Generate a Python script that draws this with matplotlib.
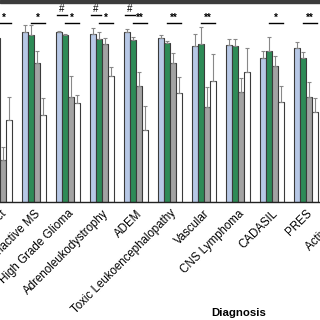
import matplotlib
matplotlib.use("Agg")
import matplotlib.pyplot as plt
import numpy as np
from matplotlib.patches import Rectangle

plt.rcParams['font.family'] = ['Liberation Sans', 'DejaVu Sans']

categories = ["Acute Infarct", "Inactive MS", "High Grade Glioma", "Adrenoleukodystrophy",
              "ADEM", "Toxic Leukoencephalopathy", "Vascular", "CNS Lymphoma",
              "CADASIL", "PRES", "Active MS"]
blue_vals  = [85, 85, 85, 84, 85, 82, 78, 78.5, 72, 77, 84]
blue_err   = [3, 3.5, 0.5, 3, 1.5, 1.5, 6, 3, 3.5, 3, 3]
green_vals = [82, 83.5, 83.5, 81.5, 81, 79.5, 79, 78, 75.5, 72, 82]
green_err  = [4, 5, 0.5, 3.5, 1.5, 1, 8.5, 3.5, 7, 3, 4]
gray_vals  = [21, 69.5, 52.5, 79, 58, 69.5, 47.5, 55, 68, 52.5, 60]
gray_err   = [6.5, 6, 10.5, 3, 7, 5, 10, 7, 5, 7.5, 6]
white_vals = [41, 43.5, 49.5, 63, 36, 54.5, 60.5, 65, 50, 45, 45]
white_err  = [11.5, 8.5, 4, 4.5, 12, 8, 13.5, 12, 8, 7, 8]
stars  = ["*", "*", "*", "*", "**", "**", "**", "", "*", "**", ""]
hashes = ["", "", "#", "#", "#", "", "", "", "", "", ""]

fig = plt.figure(figsize=(3.2, 3.2), dpi=100)
fig.patches.append(Rectangle((0, 1 - 3/320), 1, 3/320, transform=fig.transFigure,
                             color='#3c3c3c', zorder=10))
left_px = -0.7 * 34
ax = fig.add_axes([left_px/320, (320-202)/320, 11.4*34/320, 200/320])

x = np.arange(len(categories))
w = 6/34
series = [(blue_vals, blue_err, '#b7c8e6'), (green_vals, green_err, '#2e8b57'),
          (gray_vals, gray_err, '#a3a3a3'), (white_vals, white_err, '#ffffff')]
for k, (vals, errs, col) in enumerate(series):
    pos = x + (k - 1.5) * w
    ax.bar(pos, vals, width=w, color=col, edgecolor='#3a3a3a', linewidth=0.8, zorder=2)
    ax.errorbar(pos, vals, yerr=[np.zeros(len(vals)), errs], fmt='none',
                ecolor='#888888', elinewidth=0.8, capsize=1.5, capthick=0.8, zorder=3)

for i in range(len(categories)):
    if stars[i]:
        c = x[i] + 4/34
        ax.plot([c - 7/34, c + 7/34], [89.5, 89.5], color='black', lw=1.0)
        ax.text(c, 89.8, stars[i], ha='center', va='bottom', fontsize=7, fontweight='bold')
    if hashes[i]:
        c = x[i] - 6.5/34
        ax.plot([c - 5/34, c + 5/34], [93.5, 93.5], color='black', lw=1.0)
        ax.text(c, 94.0, hashes[i], ha='center', va='bottom', fontsize=7)

ax.set_xlim(-0.7, 10.7)
ax.set_ylim(0, 100)
ax.set_xticks(x)
ax.set_xticklabels(categories, rotation=45, ha='right', rotation_mode='anchor', fontsize=8.3)
ax.tick_params(axis='x', length=0, pad=4)
ax.set_yticks([])
for s in ['top', 'left', 'right']:
    ax.spines[s].set_visible(False)
ax.spines['bottom'].set_color('#222222')
ax.spines['bottom'].set_linewidth(1.0)

fig.text(239/320, 1 - 313/320, "Diagnosis", ha='center', va='center', fontsize=8.2, fontweight='bold')

fig.savefig("out.png", dpi=100)
